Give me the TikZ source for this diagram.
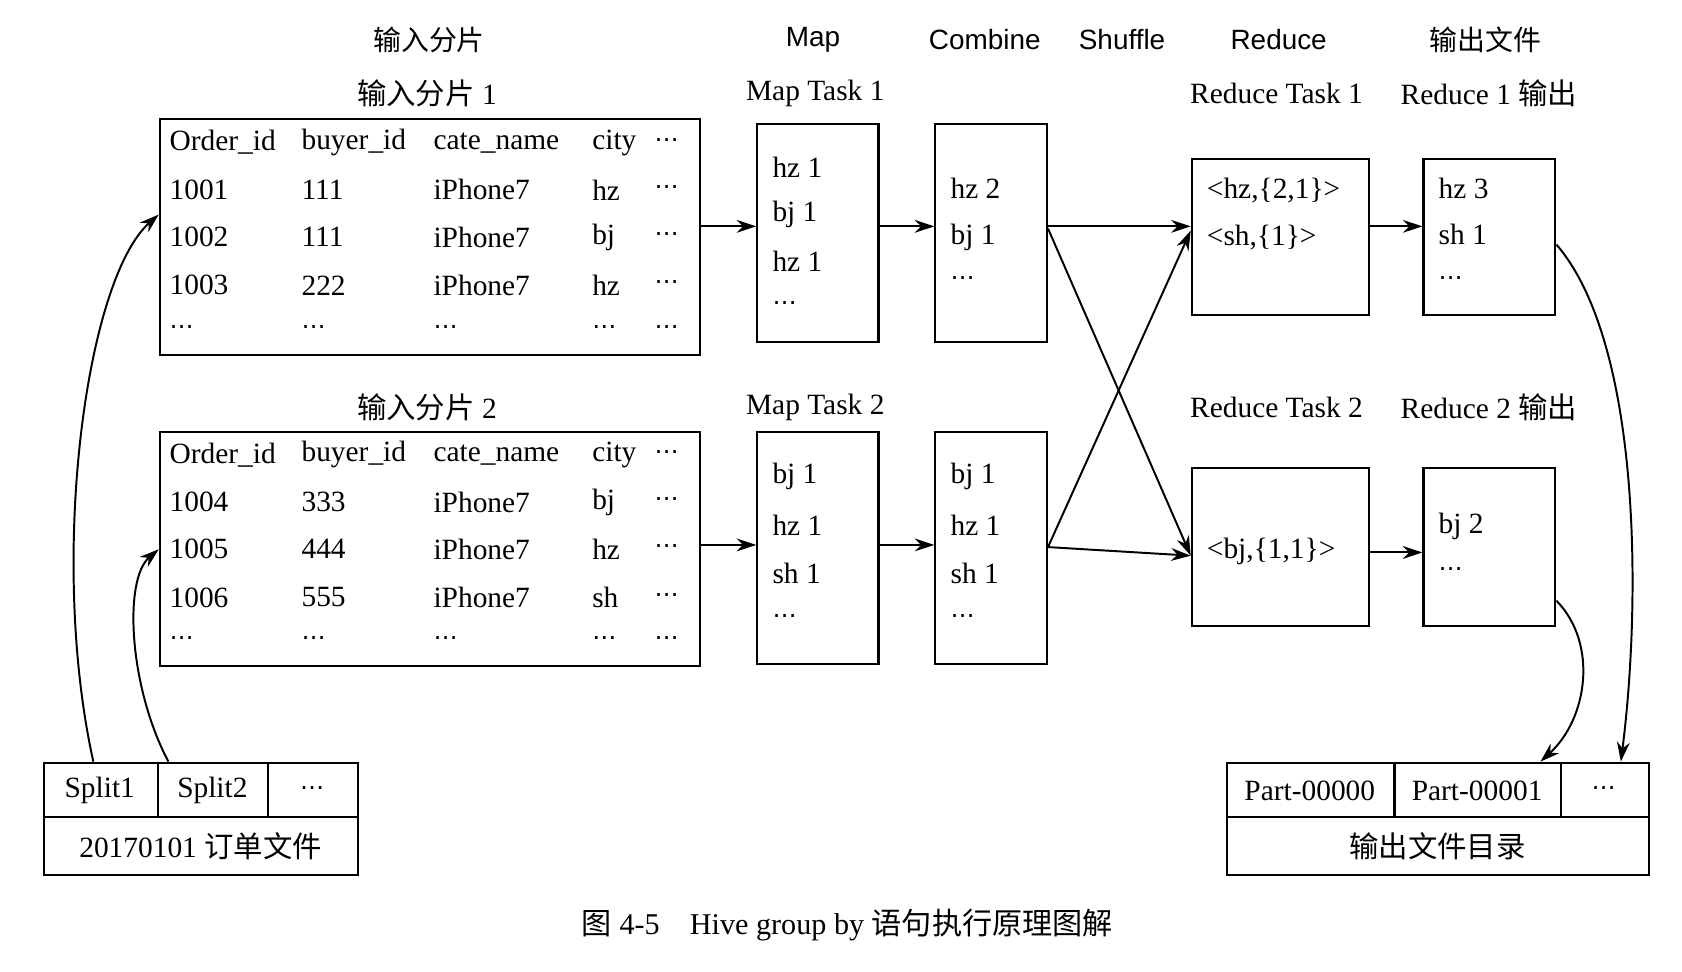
\documentclass[tikz,border=0pt]{standalone}
\usepackage{fontspec}
\setmainfont{Liberation Serif}
\newfontfamily\cjk{Noto Sans CJK SC}
\newfontfamily\hsans{Liberation Sans}
\newfontfamily\djv{DejaVu Sans}
\usetikzlibrary{arrows.meta}
\newcommand{\dd}{{\djv\fontsize{32}{32}\selectfont ⋯}}
\begin{document}
\begin{tikzpicture}[x=0.05cm,y=-0.05cm,
  bx/.style={draw,line width=2.8pt,anchor=north west,inner sep=0pt},
  tx/.style={anchor=west,inner sep=0pt,font=\fontsize{39}{40}\selectfont},
  lb/.style={inner sep=0pt,font=\fontsize{39}{40}\selectfont},
  hd/.style={inner sep=0pt,font=\hsans\fontsize{37}{38}\selectfont},
  ar/.style={line width=2.6pt,-{Stealth[length=26pt,width=17pt]}},
  ln/.style={line width=2.8pt}]
\useasboundingbox[fill=white] (0,0) rectangle (1568,906);
% headers
\node[hd] (h1) at (400,37) {\cjk 输入分片};
\node[hd] (h2) at (758,37) {Map};
\node[hd] (h3) at (918,37) {Combine};
\node[hd] (h4) at (1046,37) {Shuffle};
\node[hd] (h5) at (1192,37) {Reduce};
\node[hd] (h6) at (1385,37) {\cjk 输出文件};
% labels
\node[lb] (l1) at (398,87) {{\cjk 输入分片} 1};
\node[lb] (l2) at (398,380) {{\cjk 输入分片} 2};
\node[lb] (l3) at (760,87) {Map Task 1};
\node[lb] (l4) at (760,380) {Map Task 2};
\node[lb] (l5) at (1190,87) {Reduce Task 1};
\node[lb] (l6) at (1190,380) {Reduce Task 2};
\node[lb] (l7) at (1388,87) {Reduce 1 {\cjk 输出}};
\node[lb] (l8) at (1388,380) {Reduce 2 {\cjk 输出}};
% tables
\node[bx,minimum width=25.2cm,minimum height=11cm] (t1) at (148,110) {};
\node[bx,minimum width=25.2cm,minimum height=10.9cm] (t2) at (148,402) {};
\foreach \y/\a/\b/\c/\d/\e in {133/Order\_id/buyer\_id/cate\_name/city/\dd,177/1001/111/iPhone7/hz/\dd,221/1002/111/iPhone7/bj/\dd,266/1003/222/iPhone7/hz/\dd,308/\dd/\dd/\dd/\dd/\dd}{
 \node[tx] at (158,\y) {\a}; \node[tx] at (281,\y) {\b}; \node[tx] at (404,\y) {\c}; \node[tx] at (552,\y) {\d}; \node[tx] at (610,\y) {\e};}
\foreach \y/\a/\b/\c/\d/\e in {424/Order\_id/buyer\_id/cate\_name/city/\dd,468/1004/333/iPhone7/bj/\dd,512/1005/444/iPhone7/hz/\dd,557/1006/555/iPhone7/sh/\dd,598/\dd/\dd/\dd/\dd/\dd}{
 \node[tx] at (158,\y) {\a}; \node[tx] at (281,\y) {\b}; \node[tx] at (404,\y) {\c}; \node[tx] at (552,\y) {\d}; \node[tx] at (610,\y) {\e};}
% map / combine
\node[bx,minimum width=5.65cm,minimum height=10.15cm] (m1) at (705,115) {};
\node[bx,minimum width=5.2cm,minimum height=10.15cm] (c1) at (871,115) {};
\node[bx,minimum width=5.65cm,minimum height=10.8cm] (m2) at (705,402) {};
\node[bx,minimum width=5.2cm,minimum height=10.8cm] (c2) at (871,402) {};
\node[tx] at (720,156) {hz 1}; \node[tx] at (720,200) {bj 1}; \node[tx] at (720,244) {hz 1}; \node[tx] at (720,285) {\dd};
\node[tx] at (886,176) {hz 2}; \node[tx] at (886,221) {bj 1}; \node[tx] at (886,262) {\dd};
\node[tx] at (720,444) {bj 1}; \node[tx] at (720,490) {hz 1}; \node[tx] at (720,535) {sh 1}; \node[tx] at (720,577) {\dd};
\node[tx] at (886,444) {bj 1}; \node[tx] at (886,490) {hz 1}; \node[tx] at (886,535) {sh 1}; \node[tx] at (886,577) {\dd};
% reduce
\node[bx,minimum width=8.25cm,minimum height=7.3cm] (r1) at (1110,147) {};
\node[bx,minimum width=6.15cm,minimum height=7.3cm] (o1) at (1326,147) {};
\node[bx,minimum width=8.25cm,minimum height=7.4cm] (r2) at (1110,435) {};
\node[bx,minimum width=6.15cm,minimum height=7.4cm] (o2) at (1326,435) {};
\node[tx] at (1125,178) {<hz,\{2,1\}>}; \node[tx] at (1125,221) {<sh,\{1\}>};
\node[tx] at (1125,514) {<bj,\{1,1\}>};
\node[tx] at (1341,176) {hz 3}; \node[tx] at (1341,219) {sh 1}; \node[tx] at (1341,262) {\dd};
\node[tx] at (1341,491) {bj 2}; \node[tx] at (1341,533) {\dd};
% arrows
\draw[ar] (t1.east |- 0,211) -- (m1.west |- 0,211);
\draw[ar] (m1.east |- 0,211) -- (c1.west |- 0,211);
\draw[ar] (t2.east |- 0,508) -- (m2.west |- 0,508);
\draw[ar] (m2.east |- 0,508) -- (c2.west |- 0,508);
\draw[ar] (c1.east |- 0,211) -- (r1.west |- 0,211);
\draw[ar] (c1.east |- 0,213) -- (r2.west |- 0,518);
\draw[ar] (c2.east |- 0,510) -- (r1.west |- 0,215);
\draw[ar] (c2.east |- 0,510) -- (r2.west |- 0,518);
\draw[ar] (r1.east |- 0,211) -- (o1.west |- 0,211);
\draw[ar] (r2.east |- 0,515) -- (o2.west |- 0,515);
% split box
\node[bx,minimum width=14.65cm,minimum height=5.25cm] (sp) at (40,710) {};
\draw[ln] (40,762) -- (333,762); \draw[ln] (147,710) -- (147,762); \draw[ln] (250,710) -- (250,762);
\node[lb] (s1) at (93,737) {Split1}; \node[lb] (s2) at (198,737) {Split2}; \node[lb] (s3) at (291,737) {\dd};
\node[lb] (sf) at (187,789) {20170101 {\cjk 订单文件}};
\coordinate (a1) at (87,710); \coordinate (a2) at (157,710);
\draw[ar] (a1) .. controls (45,520) and (80,260) .. (t1.west |- 0,200);
\draw[ar] (a2) .. controls (120,640) and (115,540) .. (t2.west |- 0,512);
% output dir
\node[bx,minimum width=19.65cm,minimum height=5.25cm] (od) at (1143,710) {};
\draw[ln] (1143,762) -- (1536,762); \draw[ln] (1300,710) -- (1300,762); \draw[ln] (1455,710) -- (1455,762);
\node[lb] (p1) at (1221,737) {Part-00000}; \node[lb] (p2) at (1377,737) {Part-00001}; \node[lb] (p3) at (1495,737) {\dd};
\node[lb] (pf) at (1340,789) {\cjk 输出文件目录};
\coordinate (b1) at (1511,710); \coordinate (b2) at (1436,710);
\draw[ar] (o1.east |- 0,228) .. controls (1530,320) and (1530,560) .. (b1);
\draw[ar] (o2.east |- 0,560) .. controls (1490,600) and (1480,670) .. (b2);
% caption
\node[lb,font=\fontsize{40}{42}\selectfont] (cap) at (790,862) {{\cjk 图} 4-5\quad Hive group by {\cjk 语句执行原理图解}};
\end{tikzpicture}
\end{document}
